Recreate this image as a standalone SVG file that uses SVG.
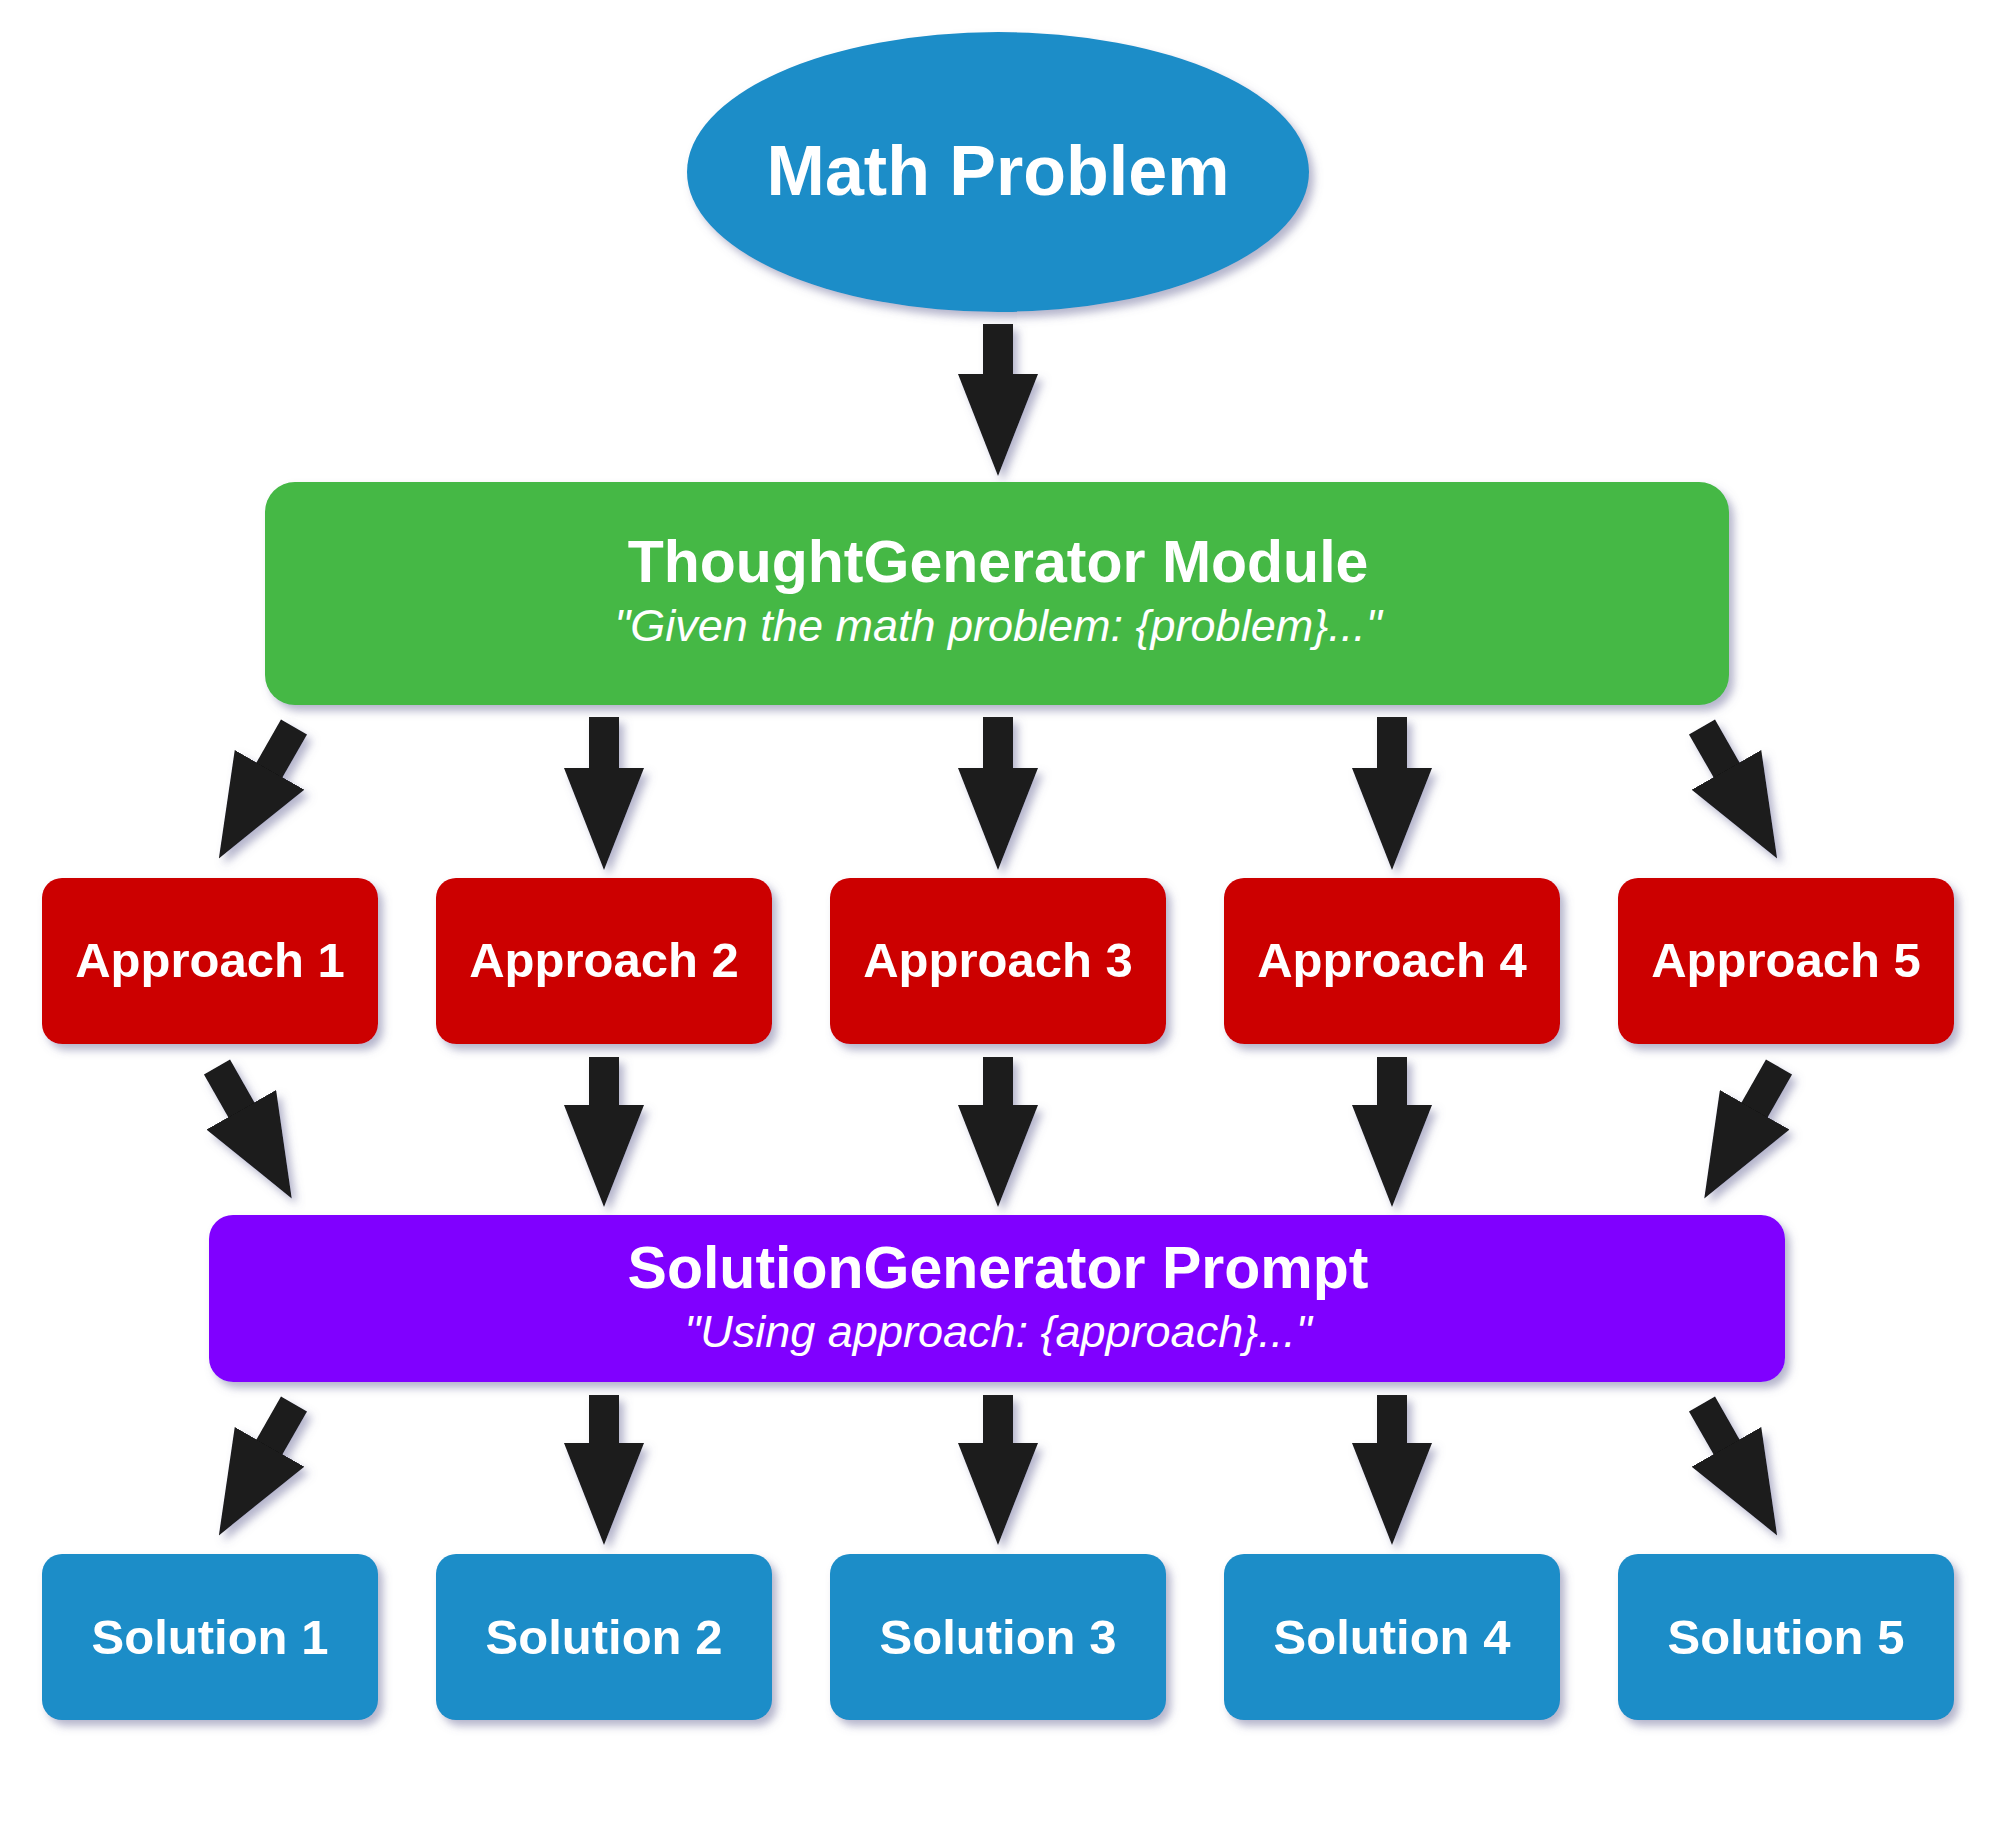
<svg xmlns="http://www.w3.org/2000/svg" width="2016" height="1827" viewBox="0 0 2016 1827">
  <style>
    .lbl { font-family: "Liberation Sans", Arial, Helvetica, sans-serif; fill: #ffffff; text-anchor: middle; font-weight: bold; }
    .sub { font-family: "Liberation Sans", Arial, Helvetica, sans-serif; fill: #ffffff; text-anchor: middle; font-style: italic; font-size: 45px; }
    .conn { stroke: #1a1a1a; stroke-width: 30; fill: none; stroke-linecap: butt; marker-end: url(#head); }
    .approach { fill: #cc0000; }
    .solution { fill: #1b8dc8; }
  </style>
  <defs>
    <filter id="shadow" x="-20%" y="-20%" width="140%" height="150%">
      <feDropShadow dx="5" dy="6" stdDeviation="4" flood-color="#6a6a9a" flood-opacity="0.5"/>
    </filter>
    <filter id="connShadow" filterUnits="userSpaceOnUse" x="0" y="0" width="2016" height="1827">
      <feDropShadow dx="5" dy="6" stdDeviation="4" flood-color="#6a6a9a" flood-opacity="0.5"/>
    </filter>
    <marker id="head" viewBox="0 0 102 80" refX="2" refY="40" markerWidth="102" markerHeight="80" markerUnits="userSpaceOnUse" orient="auto">
      <path d="M0,0 L102,40 L0,80 Z" fill="#1a1a1a"/>
    </marker>
  </defs>
  <rect width="2016" height="1827" fill="#ffffff"/>

  <g id="connectors" filter="url(#connShadow)">
    <!-- Math Problem -> ThoughtGenerator -->
    <line class="conn" x1="998" y1="324" x2="998" y2="376"/>
    <!-- ThoughtGenerator -> Approaches -->
    <line class="conn" x1="294" y1="727" x2="268.5" y2="771.6"/>
    <line class="conn" x1="604" y1="717" x2="604" y2="770"/>
    <line class="conn" x1="998" y1="717" x2="998" y2="770"/>
    <line class="conn" x1="1392" y1="717" x2="1392" y2="770"/>
    <line class="conn" x1="1702" y1="727" x2="1727.5" y2="771.6"/>
    <!-- Approaches -> SolutionGenerator -->
    <line class="conn" x1="217" y1="1067" x2="242.3" y2="1111.5"/>
    <line class="conn" x1="604" y1="1057" x2="604" y2="1107"/>
    <line class="conn" x1="998" y1="1057" x2="998" y2="1107"/>
    <line class="conn" x1="1392" y1="1057" x2="1392" y2="1107"/>
    <line class="conn" x1="1779" y1="1067" x2="1753.7" y2="1111.5"/>
    <!-- SolutionGenerator -> Solutions -->
    <line class="conn" x1="294" y1="1404" x2="268.5" y2="1448.6"/>
    <line class="conn" x1="604" y1="1395" x2="604" y2="1445"/>
    <line class="conn" x1="998" y1="1395" x2="998" y2="1445"/>
    <line class="conn" x1="1392" y1="1395" x2="1392" y2="1445"/>
    <line class="conn" x1="1702" y1="1404" x2="1727.5" y2="1448.6"/>
  </g>

  <g id="math-problem">
    <ellipse cx="998" cy="172" rx="311" ry="140" fill="#1b8dc8" filter="url(#shadow)"/>
    <text class="lbl" x="998" y="195" font-size="70">Math Problem</text>
  </g>

  <g id="thought-generator">
    <rect x="265" y="482" width="1464" height="223" rx="30" fill="#44b844" filter="url(#shadow)"/>
    <text class="lbl" x="998" y="582" font-size="59">ThoughtGenerator Module</text>
    <text class="sub" x="998" y="641">"Given the math problem: {problem}..."</text>
  </g>

  <g id="approach-1">
    <rect class="approach" x="42" y="878" width="336" height="166" rx="20" filter="url(#shadow)"/>
    <text class="lbl" x="210" y="977" font-size="49">Approach 1</text>
  </g>
  <g id="approach-2">
    <rect class="approach" x="436" y="878" width="336" height="166" rx="20" filter="url(#shadow)"/>
    <text class="lbl" x="604" y="977" font-size="49">Approach 2</text>
  </g>
  <g id="approach-3">
    <rect class="approach" x="830" y="878" width="336" height="166" rx="20" filter="url(#shadow)"/>
    <text class="lbl" x="998" y="977" font-size="49">Approach 3</text>
  </g>
  <g id="approach-4">
    <rect class="approach" x="1224" y="878" width="336" height="166" rx="20" filter="url(#shadow)"/>
    <text class="lbl" x="1392" y="977" font-size="49">Approach 4</text>
  </g>
  <g id="approach-5">
    <rect class="approach" x="1618" y="878" width="336" height="166" rx="20" filter="url(#shadow)"/>
    <text class="lbl" x="1786" y="977" font-size="49">Approach 5</text>
  </g>

  <g id="solution-generator">
    <rect x="209" y="1215" width="1576" height="167" rx="24" fill="#8000ff" filter="url(#shadow)"/>
    <text class="lbl" x="998" y="1288" font-size="59">SolutionGenerator Prompt</text>
    <text class="sub" x="998" y="1347">"Using approach: {approach}..."</text>
  </g>

  <g id="solution-1">
    <rect class="solution" x="42" y="1554" width="336" height="166" rx="20" filter="url(#shadow)"/>
    <text class="lbl" x="210" y="1654" font-size="49">Solution 1</text>
  </g>
  <g id="solution-2">
    <rect class="solution" x="436" y="1554" width="336" height="166" rx="20" filter="url(#shadow)"/>
    <text class="lbl" x="604" y="1654" font-size="49">Solution 2</text>
  </g>
  <g id="solution-3">
    <rect class="solution" x="830" y="1554" width="336" height="166" rx="20" filter="url(#shadow)"/>
    <text class="lbl" x="998" y="1654" font-size="49">Solution 3</text>
  </g>
  <g id="solution-4">
    <rect class="solution" x="1224" y="1554" width="336" height="166" rx="20" filter="url(#shadow)"/>
    <text class="lbl" x="1392" y="1654" font-size="49">Solution 4</text>
  </g>
  <g id="solution-5">
    <rect class="solution" x="1618" y="1554" width="336" height="166" rx="20" filter="url(#shadow)"/>
    <text class="lbl" x="1786" y="1654" font-size="49">Solution 5</text>
  </g>
</svg>
